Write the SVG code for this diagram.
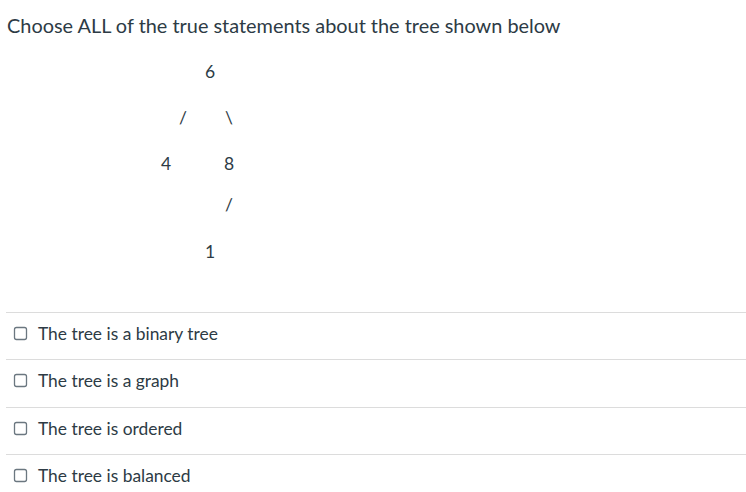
<svg xmlns="http://www.w3.org/2000/svg" width="746" height="492" viewBox="0 0 746 492">
<style>
text{font-family:Lato,"Liberation Sans",sans-serif;fill:#2d3b45}
.q{font-size:19.9px}
.t{font-size:17.5px;text-anchor:middle}
.o{font-size:17.4px}
.sep{stroke:#dcdcdc;stroke-width:1}
.cb{fill:#fff;stroke:#6b7780;stroke-width:1.3}
</style>
<rect width="746" height="492" fill="#fff"/>
<text class="q" x="7" y="33">Choose ALL of the true statements about the tree shown below</text>
<g id="tree">
<text class="t" x="210" y="78">6</text>
<text class="t" x="183" y="124">/</text>
<text class="t" x="229" y="124">\</text>
<text class="t" x="166" y="170">4</text>
<text class="t" x="229" y="170">8</text>
<text class="t" x="229" y="211">/</text>
<text class="t" x="210" y="258">1</text>
</g>
<g id="options">
<line class="sep" x1="6" y1="312.5" x2="746" y2="312.5"/>
<line class="sep" x1="6" y1="359.5" x2="746" y2="359.5"/>
<line class="sep" x1="6" y1="407.5" x2="746" y2="407.5"/>
<line class="sep" x1="6" y1="454.5" x2="746" y2="454.5"/>
<rect class="cb" x="14.5" y="327.5" width="12" height="12" rx="2"/>
<text class="o" x="38" y="339.5">The tree is a binary tree</text>
<rect class="cb" x="14.5" y="374.5" width="12" height="12" rx="2"/>
<text class="o" x="38" y="386.5">The tree is a graph</text>
<rect class="cb" x="14.5" y="422.5" width="12" height="12" rx="2"/>
<text class="o" x="38" y="434.5">The tree is ordered</text>
<rect class="cb" x="14.5" y="469.5" width="12" height="12" rx="2"/>
<text class="o" x="38" y="481.5">The tree is balanced</text>
</g>
</svg>
